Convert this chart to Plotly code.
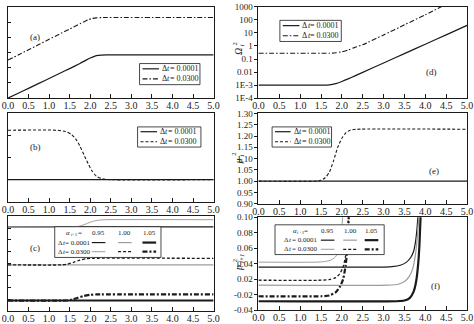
import plotly.graph_objects as go

W, H = 474, 324

# ---------------------------------------------------------------------------
# Series (x = time, y in each panel's own units)
# ---------------------------------------------------------------------------
x_ticks = [0.0, 0.5, 1.0, 1.5, 2.0, 2.5, 3.0, 3.5, 4.0, 4.5, 5.0]
x_ticktext = ["0.0", "0.5", "1.0", "1.5", "2.0", "2.5", "3.0", "3.5", "4.0", "4.5", "5.0"]

# (a)
a_fine_x = [0.0, 0.25, 0.5, 0.75, 1.0, 1.25, 1.5, 1.75, 1.9, 2.0, 2.1, 2.2, 2.4, 2.6, 5.0]
a_fine_y = [0.0, 0.32, 0.64, 0.97, 1.29, 1.62, 1.94, 2.28, 2.5, 2.64, 2.75, 2.81, 2.84, 2.85, 2.85]
a_coarse_x = [0.0, 0.25, 0.5, 0.75, 1.0, 1.25, 1.5, 1.75, 1.85, 1.95, 2.05, 2.15, 2.3, 5.0]
a_coarse_y = [2.5, 2.84, 3.18, 3.52, 3.87, 4.21, 4.55, 4.89, 5.02, 5.15, 5.24, 5.28, 5.3, 5.3]

# (b)
b_fine_x = [0.0, 5.0]
b_fine_y = [1.0, 1.0]
b_coarse_x = [0.0, 1.2, 1.4, 1.55, 1.65, 1.75, 1.85, 1.95, 2.05, 2.15, 2.3, 2.5, 5.0]
b_coarse_y = [1.112, 1.112, 1.109, 1.102, 1.092, 1.076, 1.056, 1.036, 1.019, 1.008, 1.002, 1.0, 1.0]

# (c)
c_flat_x = [0.0, 5.0]
c_fine_095 = [0.031, 0.031]
c_fine_100 = [-0.001, -0.001]
c_fine_105 = [-0.031, -0.031]
c_coarse_095_x = [0.0, 1.6, 1.75, 1.9, 2.05, 2.2, 2.35, 5.0]
c_coarse_095_y = [0.031, 0.031, 0.0317, 0.0335, 0.0355, 0.0366, 0.037, 0.037]
c_coarse_100_x = [0.0, 1.3, 1.45, 1.6, 1.75, 1.9, 2.05, 5.0]
c_coarse_100_y = [-0.001, -0.001, -0.0004, 0.0012, 0.0030, 0.0041, 0.0045, 0.0045]
c_coarse_105_x = [0.0, 1.4, 1.55, 1.7, 1.85, 2.0, 2.15, 5.0]
c_coarse_105_y = [-0.031, -0.031, -0.0303, -0.0287, -0.0271, -0.0262, -0.0259, -0.0259]

# (d)  Omega_i^2, log scale
d_fine_x = [0.0, 1.5, 1.7, 1.85, 2.0, 2.15, 2.3, 2.5, 3.0, 3.5, 4.0, 4.5, 5.0]
d_fine_y = [1e-3, 1e-3, 1.05e-3, 1.29e-3, 1.9e-3, 3.0e-3, 4.9e-3, 9.5e-3, 0.05, 0.26, 1.38, 7.2, 38.0]
d_coarse_x = [0.0, 1.7, 1.85, 2.0, 2.15, 2.3, 2.5, 3.0, 3.5, 4.0, 4.5]
d_coarse_y = [0.28, 0.28, 0.30, 0.36, 0.5, 0.75, 1.26, 7.1, 42.0, 250.0, 1600.0]
d_tickvals = [1e-4, 1e-3, 1e-2, 1e-1, 1, 10, 100, 1000]
d_ticktext = ["1E-4", "1E-3", "0.01", "0.1", "1", "10", "100", "1000"]

# (e)  mu_i^2
e_fine_x = [0.0, 5.0]
e_fine_y = [1.0, 1.0]
e_coarse_x = [0.0, 1.4, 1.5, 1.6, 1.7, 1.8, 1.9, 2.0, 2.1, 2.2, 2.35, 5.0]
e_coarse_y = [1.0, 1.0, 1.004, 1.015, 1.04, 1.09, 1.15, 1.19, 1.215, 1.226, 1.23, 1.23]

# (f)  p_{i+1}^2
f_fine_095_x = [0.0, 2.9, 3.2, 3.4, 3.55, 3.65, 3.72, 3.77, 3.8, 3.83]
f_fine_095_y = [0.0355, 0.0355, 0.0362, 0.038, 0.042, 0.048, 0.056, 0.07, 0.085, 0.105]
f_fine_100_x = [0.0, 3.1, 3.35, 3.5, 3.62, 3.7, 3.76, 3.81, 3.85]
f_fine_100_y = [0.0123, 0.0123, 0.0135, 0.017, 0.024, 0.034, 0.05, 0.075, 0.105]
f_fine_105_x = [0.0, 3.3, 3.5, 3.63, 3.72, 3.78, 3.83, 3.86, 3.89]
f_fine_105_y = [-0.0084, -0.0084, -0.0075, -0.004, 0.004, 0.017, 0.04, 0.065, 0.105]
f_coarse_095_x = [0.0, 1.4, 1.6, 1.75, 1.85, 1.92, 1.96, 2.0, 2.02]
f_coarse_095_y = [0.042, 0.042, 0.0428, 0.045, 0.049, 0.056, 0.066, 0.085, 0.105]
f_coarse_100_x = [0.0, 1.5, 1.7, 1.85, 1.95, 2.03, 2.09, 2.13, 2.16]
f_coarse_100_y = [0.0187, 0.0187, 0.0195, 0.022, 0.027, 0.036, 0.05, 0.07, 0.105]
f_coarse_105_x = [0.0, 1.5, 1.7, 1.85, 1.95, 2.03, 2.09, 2.13, 2.17]
f_coarse_105_y = [-0.002, -0.002, -0.001, 0.003, 0.01, 0.02, 0.038, 0.06, 0.105]
f_tickvals = [-0.02, 0.0, 0.02, 0.04, 0.06, 0.08, 0.10]
f_ticktext = ["-0.04", "-0.02", "0.02", "0.04", "0.06", "0.08", "0.10"]

alphas = ["0.95", "1.00", "1.05"]
dt_values = ["0.0001", "0.0300"]

# ---------------------------------------------------------------------------
# Styling
# ---------------------------------------------------------------------------
FONT = "Liberation Serif"
INK = "#1a1a1a"
GRAY = "#9c9c9c"

FINE = dict(color=INK, width=1.2, dash="solid")
COARSE_DD = dict(color=INK, width=1.1, dash="5px,2px,1.5px,2px")
COARSE_DASH = dict(color=INK, width=1.1, dash="3px,2px")

ALPHA_STYLES = {
    "fine": [dict(color=INK, width=1.2, dash="solid"),
             dict(color=GRAY, width=1.2, dash="solid"),
             dict(color=INK, width=2.2, dash="solid")],
    "coarse": [dict(color=GRAY, width=1.0, dash="solid"),
               dict(color=INK, width=1.3, dash="3px,2px"),
               dict(color=INK, width=2.2, dash="5px,2px,2px,2px")],
}

# panel boxes in pixels: left, right, top, bottom
PANELS = {
    "a": (2, 213, 2, 97),
    "b": (2, 213, 113, 205),
    "c": (2, 213, 220, 319),
    "d": (259, 473, 2, 97),
    "e": (259, 473, 113, 207),
    "f": (259, 473, 221, 318),
}
AXIS_ID = {"a": "", "b": "2", "c": "3", "d": "4", "e": "5", "f": "6"}


def fx(px):
    return px / W


def fy(py):
    return 1 - py / H


fig = go.Figure()


def add_line(panel, xs, ys, style):
    k = AXIS_ID[panel]
    fig.add_trace(go.Scatter(
        x=xs, y=ys, mode="lines", line=dict(shape="spline", smoothing=0.6, **style),
        xaxis="x" + k, yaxis="y" + k, showlegend=False, hoverinfo="skip"))


# (a), (b), (d), (e)
add_line("a", a_fine_x, a_fine_y, FINE)
add_line("a", a_coarse_x, a_coarse_y, COARSE_DD)
add_line("b", b_fine_x, b_fine_y, FINE)
add_line("b", b_coarse_x, b_coarse_y, COARSE_DASH)
add_line("d", d_fine_x, d_fine_y, FINE)
add_line("d", d_coarse_x, d_coarse_y, COARSE_DD)
add_line("e", e_fine_x, e_fine_y, FINE)
add_line("e", e_coarse_x, e_coarse_y, COARSE_DASH)

# (c)
for ys, st in zip([c_fine_095, c_fine_100, c_fine_105], ALPHA_STYLES["fine"]):
    add_line("c", c_flat_x, ys, st)
for xs, ys, st in zip([c_coarse_095_x, c_coarse_100_x, c_coarse_105_x],
                      [c_coarse_095_y, c_coarse_100_y, c_coarse_105_y],
                      ALPHA_STYLES["coarse"]):
    add_line("c", xs, ys, st)

# (f)
for xs, ys, st in zip([f_fine_095_x, f_fine_100_x, f_fine_105_x],
                      [f_fine_095_y, f_fine_100_y, f_fine_105_y],
                      ALPHA_STYLES["fine"]):
    add_line("f", xs, ys, st)
for xs, ys, st in zip([f_coarse_095_x, f_coarse_100_x, f_coarse_105_x],
                      [f_coarse_095_y, f_coarse_100_y, f_coarse_105_y],
                      ALPHA_STYLES["coarse"]):
    add_line("f", xs, ys, st)

# ---------------------------------------------------------------------------
# Axes
# ---------------------------------------------------------------------------
common = dict(showline=True, linecolor=INK, linewidth=1, mirror=True,
              showgrid=False, zeroline=False, tickcolor=INK, tickwidth=1)

y_specs = {
    "a": dict(range=[0, 6], dtick=1, showticklabels=False),
    "b": dict(range=[0.95, 1.15], dtick=0.05, showticklabels=False),
    "c": dict(range=[-0.04, 0.04], dtick=0.01, showticklabels=False),
    "d": dict(type="log", range=[-4, 3], tickvals=d_tickvals, ticktext=d_ticktext),
    "e": dict(range=[0.9, 1.3], dtick=0.05, tickformat=".2f"),
    "f": dict(range=[-0.02, 0.10], tickvals=f_tickvals, ticktext=f_ticktext),
}

layout_axes = {}
for p, (l, r, t, b) in PANELS.items():
    k = AXIS_ID[p]
    left_col = p in "abc"
    layout_axes["xaxis" + k] = dict(
        domain=[fx(l), fx(r)], anchor="y" + k, range=[0, 5],
        tickvals=x_ticks, ticktext=x_ticktext, ticks="inside", ticklen=4,
        ticklabelstandoff=-2, tickfont=dict(family=FONT, size=10, color=INK),
        **common)
    layout_axes["yaxis" + k] = dict(
        domain=[fy(b), fy(t)], anchor="x" + k,
        ticks="inside" if left_col else "outside", ticklen=3,
        tickfont=dict(family=FONT, size=9, color=INK),
        **y_specs[p], **common)

fig.update_layout(
    width=W, height=H, margin=dict(l=0, r=0, t=0, b=0),
    paper_bgcolor="white", plot_bgcolor="white",
    font=dict(family=FONT, color=INK), **layout_axes)

# ---------------------------------------------------------------------------
# Text helpers (plain runs, italics through font.style)
# ---------------------------------------------------------------------------
shapes = []
annotations = []

EM = {"0": 0.5, "1": 0.5, "2": 0.5, "3": 0.5, "5": 0.5, "9": 0.5, ".": 0.25,
      " ": 0.25, "=": 0.564, "Δ": 0.63, "t": 0.3, "α": 0.55, "i": 0.3,
      "+": 0.564}
GAP = 0.4


def width_of(s, size):
    return sum(EM.get(ch, 0.5) for ch in s) * size


def text(px, py, s, size=8, anchor="center", angle=0, italic=False):
    annotations.append(dict(
        x=fx(px), y=fy(py), xref="paper", yref="paper", text=s, showarrow=False,
        xanchor=anchor, yanchor="middle", textangle=angle, borderpad=0,
        font=dict(family=FONT, size=size, color=INK,
                  style="italic" if italic else "normal")))


def run(px, py, parts, size, align="left"):
    """parts: (string, italic, scale, dy) drawn left to right from px."""
    total = sum(width_of(s, size * sc) + GAP for s, _, sc, _ in parts)
    x = px - total / 2 if align == "center" else px
    for s, it, sc, dy in parts:
        text(x, py + dy, s, size=size * sc, anchor="left", italic=it)
        x += width_of(s, size * sc) + GAP


def dt_parts(value):
    return [("Δ", False, 1, 0), ("t", True, 1, 0), ("= " + value, False, 1, 0)]


def seg(x0, x1, py, style):
    shapes.append(dict(type="line", xref="paper", yref="paper",
                       x0=fx(x0), x1=fx(x1), y0=fy(py), y1=fy(py),
                       line=dict(color=style["color"], width=style["width"],
                                 dash=style["dash"])))


def box(l, r, t, b):
    shapes.append(dict(type="rect", xref="paper", yref="paper",
                       x0=fx(l), x1=fx(r), y0=fy(b), y1=fy(t),
                       line=dict(color=INK, width=0.8), fillcolor="white"))


for lab, (px, py) in {"(a)": (30, 33), "(b)": (30, 148), "(c)": (30, 253),
                      "(d)": (437, 70), "(e)": (439, 173), "(f)": (441, 293)}.items():
    text(px, py, lab, size=9)


# rotated axis titles: base glyph, superscript to the left, subscript to the right
def vtitle(px, py, base, sup, sub):
    text(px, py, base, size=10, angle=-90, italic=True)
    text(px - 4, py - 7, sup, size=6.5, angle=-90)
    text(px + 3.5, py - 6.5 - 1.6 * (len(sub) - 1), sub, size=6.5, angle=-90, italic=True)


vtitle(238, 48, "Ω", "2", "i")
vtitle(238, 163, "μ", "2", "i")
vtitle(238, 274, "p", "2", "i+1")


# two-entry keys
def two_key(l, r, t, b, rows, sample, text_x, styles):
    box(l, r, t, b)
    for py, val, st in zip(rows, dt_values, styles):
        seg(sample[0], sample[1], py, st)
        run(text_x, py, dt_parts(val), 8)


two_key(137, 199, 61, 83, [66.5, 77], (140, 157), 159, [FINE, COARSE_DD])
two_key(135, 200, 127, 148, [132, 142.5], (138, 155), 157, [FINE, COARSE_DASH])
two_key(281, 344, 16, 38, [21.5, 32], (284, 301), 303, [FINE, COARSE_DD])
two_key(273, 334, 127, 148, [132, 142.5], (276, 292), 294, [FINE, COARSE_DASH])


# three-column keys for the alpha families
def alpha_key(l, r, t, b, rows, label_x, col_x, half, size=7):
    box(l, r, t, b)
    run(label_x, rows[0], [("α", True, 1, 0), ("i", True, 0.7, 2),
                           ("+1", False, 0.7, 2), ("=", False, 1, 0)],
        size, align="center")
    for cx, a in zip(col_x, alphas):
        text(cx, rows[0], a, size=size)
    for py, val, fam in zip(rows[1:], dt_values, ["fine", "coarse"]):
        run(label_x, py, dt_parts(val), size, align="center")
        for cx, st in zip(col_x, ALPHA_STYLES[fam]):
            seg(cx - half, cx + half, py, st)


alpha_key(50, 159, 231, 263, [237.5, 247.5, 257], 69, [95, 122, 147], 7)
alpha_key(276, 388, 229, 260, [235, 245, 254.5], 301, [330, 353, 375], 7)

fig.update_layout(shapes=shapes, annotations=annotations)
fig.write_html("out.html")
